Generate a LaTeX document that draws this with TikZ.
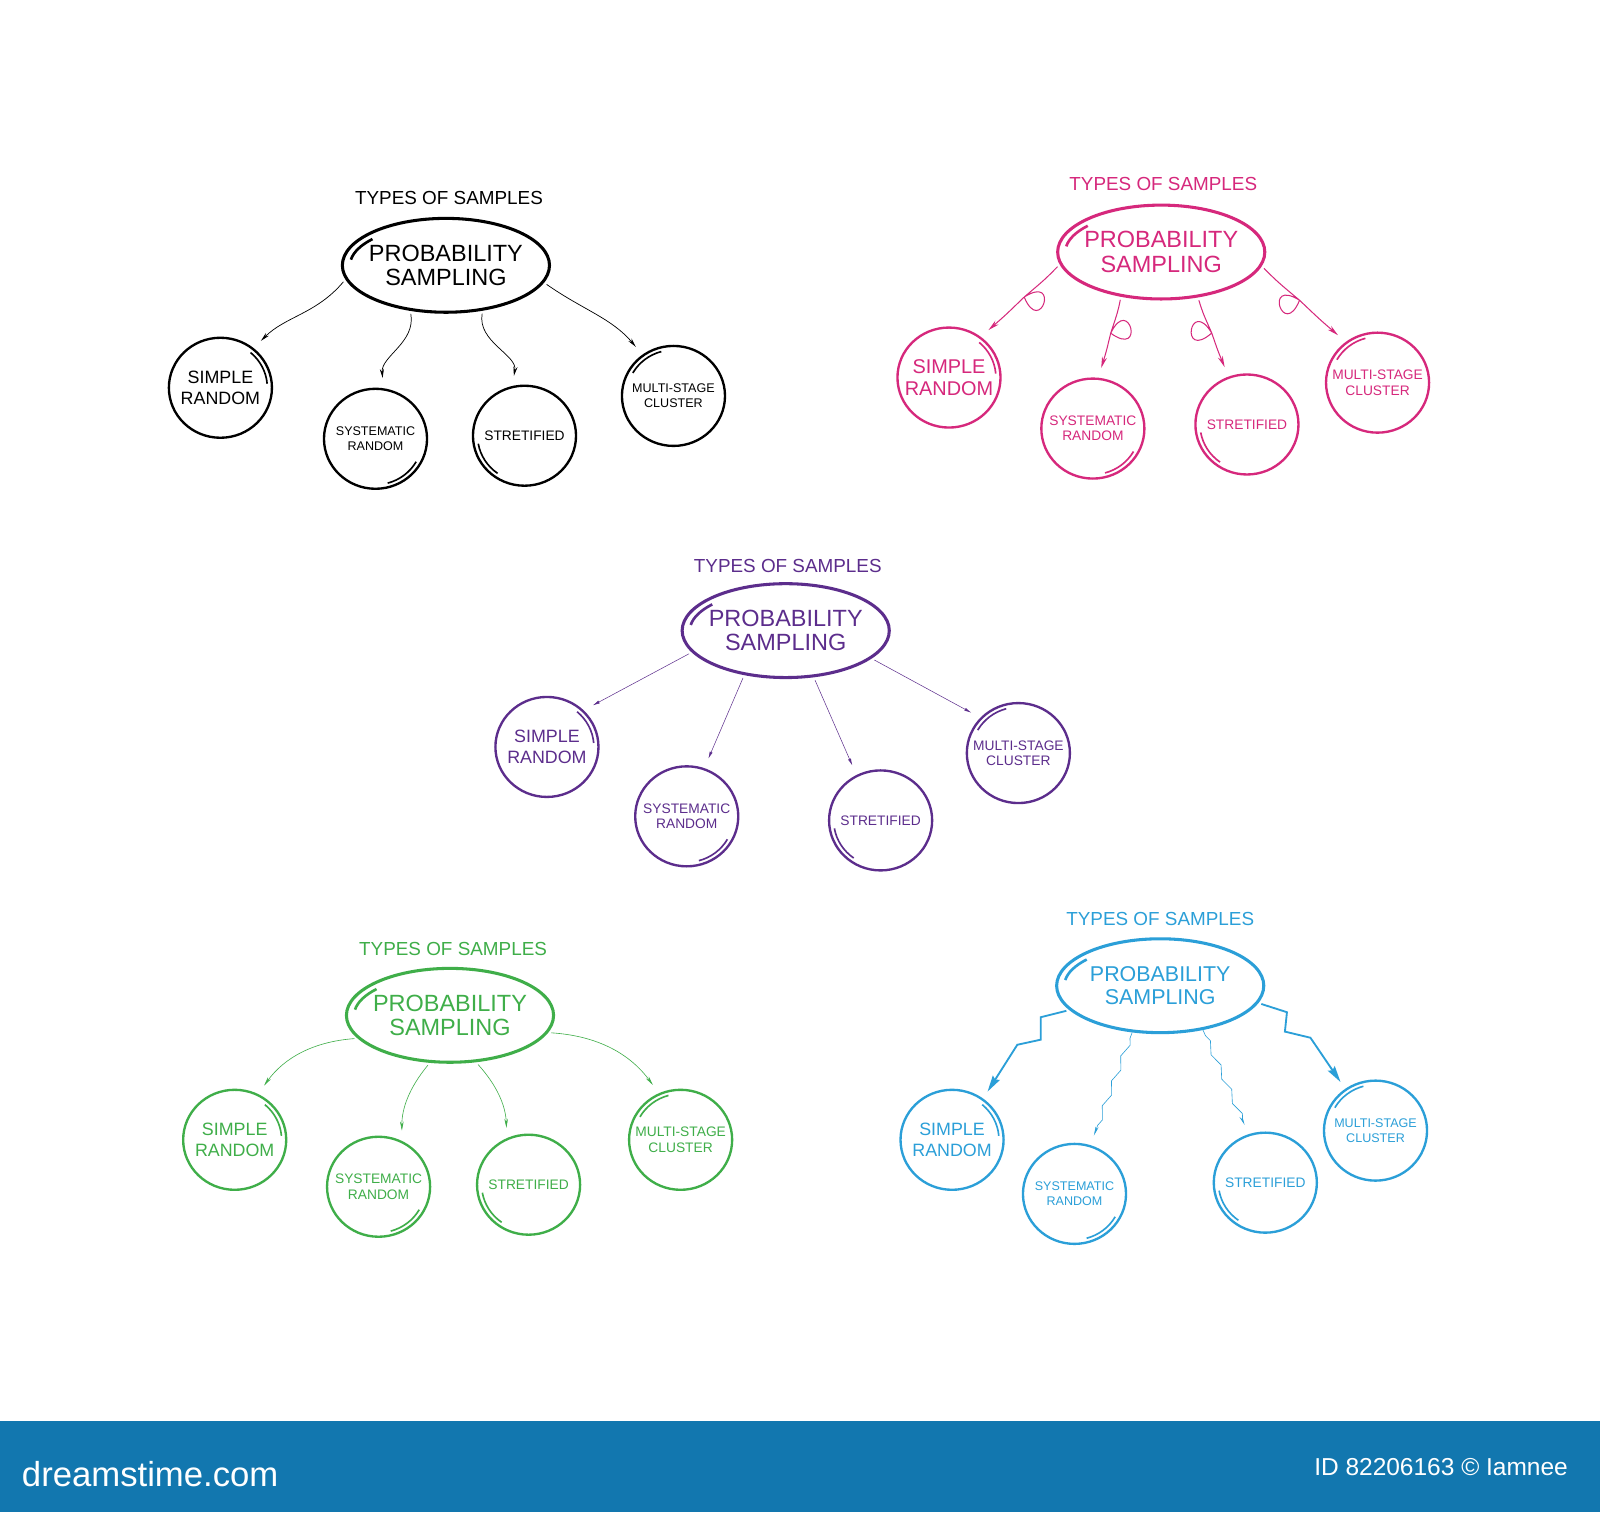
\documentclass[tikz,border=0pt]{standalone}
\usepackage{fontspec}
\setmainfont{Liberation Sans}
\usetikzlibrary{shapes.geometric,arrows.meta,calc,decorations.pathmorphing}
\definecolor{pinkline}{HTML}{D6287C}
\definecolor{purpleline}{HTML}{5C2D8C}
\definecolor{greenline}{HTML}{3FAE49}
\definecolor{blueline}{HTML}{2B9FD8}
\definecolor{barblue}{HTML}{1277AF}

\tikzset{
  curl/.style={path picture={\draw[line width=1.6pt] (path picture bounding box.center) ++(#1:46pt and 45pt) arc[start angle=#1, delta angle=45, x radius=46pt, y radius=45pt];}},
  loopy/.style 2 args={to path={.. controls ($(\tikztostart)!0.25!(\tikztotarget)!6pt!#2:(\tikztotarget)$) .. ($(\tikztostart)!0.45!(\tikztotarget)$) coordinate (lp)
     .. controls ($(lp)!42pt!#1:(\tikztotarget)$) and ($(lp)!42pt!#2:(\tikztotarget)$) .. (lp)
     .. controls ($(lp)!0.5!(\tikztotarget)!4pt!#2:(\tikztotarget)$) .. (\tikztotarget)}}
}

\begin{document}
\begin{tikzpicture}[x=1pt,y=1pt]
    \tikzstyle{title}=[font=\fontsize{18.5}{20}\selectfont]
    \tikzstyle{prob}=[ellipse, draw, line width=3pt, minimum width=203pt, minimum height=92pt, inner xsep=-15pt, inner ysep=0pt, align=center, font=\fontsize{23}{24}\selectfont,
        path picture={\draw[line width=2.6pt] (path picture bounding box.center) ++(140:94pt and 40pt) arc[start angle=140, end angle=172, x radius=94pt, y radius=40pt];}]
    \tikzstyle{kind}=[ellipse, draw, line width=2.3pt, minimum width=101pt, minimum height=98pt, inner xsep=-14pt, inner ysep=-4pt, align=center, font=\fontsize{17.5}{20}\selectfont]
    \tikzstyle{small}=[font=\fontsize{13.5}{15}\selectfont]
    \tikzstyle{tiny}=[font=\fontsize{12.3}{14.5}\selectfont]
    \tikzstyle{bedge}=[line width=0.7pt, -{Stealth[length=9pt,width=4pt]}, shorten >=10pt, shorten <=3pt]
    \tikzstyle{pedge}=[line width=1pt, -{Stealth[length=11pt,width=5pt]}, shorten >=10pt, shorten <=3pt]
    \tikzstyle{uedge}=[line width=0.5pt, -{Latex[length=7pt,width=3pt]}, shorten >=10pt, shorten <=3pt]
    \tikzstyle{gedge}=[line width=0.6pt, -{Stealth[length=9pt,width=3.5pt]}, shorten >=10pt, shorten <=3pt]
    \tikzstyle{cthick}=[line width=1.8pt, -{Stealth[length=16pt,width=8pt,inset=2pt]}, shorten >=8pt, shorten <=3pt]
    \tikzstyle{cthin}=[line width=0.6pt, -{Stealth[length=9pt,width=3pt]}, shorten >=10pt, decorate, decoration={zigzag, segment length=26pt, amplitude=2.5pt, pre length=6pt, post length=14pt}]

    \path[use as bounding box, fill=white] (0,0) rectangle (1568,-1482);

    % black
    \begin{scope}[color=black]
    \node[title] (b-title) at (440,-194) {TYPES OF SAMPLES};
    \node[prob] (b-prob) at (437,-260) {PROBABILITY\\SAMPLING};
    \node[kind, curl=5] (b-simple) at (216,-380) {SIMPLE\\RANDOM};
    \node[kind, tiny, curl=-75] (b-sys) at (368,-430) {SYSTEMATIC\\RANDOM};
    \node[kind, small, curl=190] (b-str) at (514,-427) {STRETIFIED};
    \node[kind, tiny, curl=105] (b-multi) at (660,-388) {MULTI-STAGE\\CLUSTER};
    \draw[bedge] (b-prob.188) to[out=-130,in=45] (b-simple.50);
    \draw[bedge] (b-prob.232) to[out=-80,in=95] (b-sys.81);
    \draw[bedge] (b-prob.309) to[out=-100,in=80] (b-str.104);
    \draw[bedge] (b-prob.350) to[out=-35,in=130] (b-multi.127);
    \end{scope}

    % pink
    \begin{scope}[color=pinkline]
    \node[title] (p-title) at (1140,-180) {TYPES OF SAMPLES};
    \node[prob] (p-prob) at (1138,-247) {PROBABILITY\\SAMPLING};
    \node[kind, curl=5, font=\fontsize{19.5}{21}\selectfont] (p-simple) at (930,-370) {SIMPLE\\RANDOM};
    \node[kind, small, curl=-75] (p-sys) at (1071,-420) {SYSTEMATIC\\RANDOM};
    \node[kind, small, curl=190] (p-str) at (1222,-416) {STRETIFIED};
    \node[kind, small, curl=105] (p-multi) at (1350,-375) {MULTI-STAGE\\CLUSTER};
    \draw[pedge] (p-prob.187) to[loopy={70}{170}] (p-simple.52);
    \draw[pedge] (p-prob.228) to[loopy={70}{170}] (p-sys.84);
    \draw[pedge] (p-prob.309) to[loopy={-70}{-170}] (p-str.111);
    \draw[pedge] (p-prob.352) to[loopy={-70}{-170}] (p-multi.128);
    \end{scope}

    % purple
    \begin{scope}[color=purpleline]
    \node[title] (u-title) at (772,-555) {TYPES OF SAMPLES};
    \node[prob] (u-prob) at (770,-618) {PROBABILITY\\SAMPLING};
    \node[kind, curl=5] (u-simple) at (536,-732) {SIMPLE\\RANDOM};
    \node[kind, small, curl=-75] (u-sys) at (673,-800) {SYSTEMATIC\\RANDOM};
    \node[kind, small, curl=190] (u-str) at (863,-804) {STRETIFIED};
    \node[kind, small, curl=105] (u-multi) at (998,-738) {MULTI-STAGE\\CLUSTER};
    \draw[uedge] (u-prob.193) -- (u-simple.45);
    \draw[uedge] (u-prob.227) -- (u-sys.70);
    \draw[uedge] (u-prob.301) -- (u-str.118);
    \draw[uedge] (u-prob.342) -- (u-multi.137);
    \end{scope}

    % green
    \begin{scope}[color=greenline]
    \node[title] (g-title) at (444,-930) {TYPES OF SAMPLES};
    \node[prob] (g-prob) at (441,-995) {PROBABILITY\\SAMPLING};
    \node[kind, curl=5] (g-simple) at (230,-1117) {SIMPLE\\RANDOM};
    \node[kind, small, curl=-75] (g-sys) at (371,-1163) {SYSTEMATIC\\RANDOM};
    \node[kind, small, curl=190] (g-str) at (518,-1161) {STRETIFIED};
    \node[kind, small, curl=105] (g-multi) at (667,-1117) {MULTI-STAGE\\CLUSTER};
    \draw[gedge] (g-prob.194) to[bend right=25] (g-simple.63);
    \draw[gedge] (g-prob.247) to[bend right=20] (g-sys.63);
    \draw[gedge] (g-prob.299) to[bend left=20] (g-str.115);
    \draw[gedge] (g-prob.350) to[bend left=25] (g-multi.115);
    \end{scope}

    % blue
    \begin{scope}[color=blueline]
    \node[title] (c-title) at (1137,-901) {TYPES OF SAMPLES};
    \node[prob, font=\fontsize{21}{23}\selectfont] (c-prob) at (1137,-966) {PROBABILITY\\SAMPLING};
    \node[kind, curl=5] (c-simple) at (933,-1117) {SIMPLE\\RANDOM};
    \node[kind, tiny, curl=-75] (c-sys) at (1053,-1170) {SYSTEMATIC\\RANDOM};
    \node[kind, small, curl=190] (c-str) at (1240,-1159) {STRETIFIED};
    \node[kind, tiny, curl=105] (c-multi) at (1348,-1108) {MULTI-STAGE\\CLUSTER};
    \draw[cthick] (c-prob.195) -- ++(-28,-7) -- ++(0,-22) -- ++(-23,-5) -- (c-simple.53);
    \draw[cthin] (c-prob.239) -- (c-sys.72);
    \draw[cthin] (c-prob.314) -- (c-str.109);
    \draw[cthick] (c-prob.350) -- ++(28,-9) -- ++(-2,-19) -- ++(25,-6) -- (c-multi.126);
    \end{scope}

    % footer
    \fill[barblue] (0,-1393) rectangle (1568,-1482);
    \node[white, anchor=west, font=\fontsize{34}{36}\selectfont] (site) at (18,-1445) {dreamstime.com};
    \node[white, anchor=east, font=\fontsize{24}{26}\selectfont] (stock-id) at (1540,-1438) {ID 82206163 © Iamnee};
\end{tikzpicture}
\end{document}
